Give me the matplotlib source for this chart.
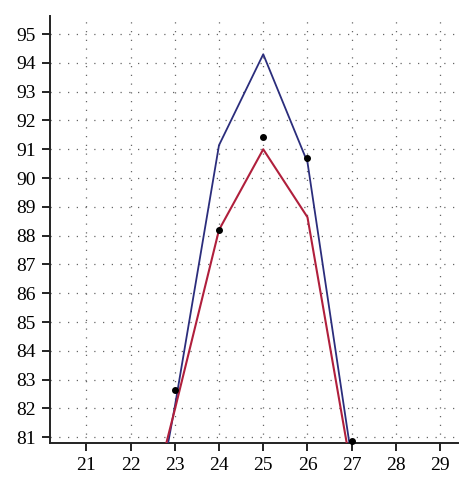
import numpy as np
import matplotlib.pyplot as plt

plt.rcParams['font.family'] = ['Liberation Serif', 'DejaVu Serif']

# --- data
x = [22, 23, 24, 25, 26, 27]
blue = [73.7, 82.05, 91.14, 94.3, 90.55, 80.25]
red = [75.9, 81.95, 88.2, 91.0, 88.64, 79.8]

x_pts = [23, 24, 25, 26, 27]
y_pts = [82.63, 88.19, 91.42, 90.69, 80.86]

xticks = [21, 22, 23, 24, 25, 26, 27, 28, 29]
yticks = list(range(81, 96))

fig = plt.figure(figsize=(4.74, 4.92), dpi=100)
ax = fig.add_axes([0.1055, 0.0996, 0.8605, 0.868])

ax.plot(x, blue, color='#2b2d7c', linewidth=1.3, zorder=3)
ax.plot(x, red, color='#b01f3c', linewidth=1.5, zorder=3)
ax.plot(x_pts, y_pts, 'o', color='k', markersize=4, zorder=4, clip_on=False)

ax.set_xlim(20.18, 29.4)
ax.set_ylim(80.8, 95.63)
ax.set_xticks(xticks)
ax.set_yticks(yticks)

ax.grid(True, color='#666666', linestyle=(0, (1, 6)), linewidth=0.9)
ax.set_axisbelow(True)

for s in ['top', 'right']:
    ax.spines[s].set_visible(False)
for s in ['left', 'bottom']:
    ax.spines[s].set_linewidth(1.4)
    ax.spines[s].set_color('#222222')

ax.tick_params(direction='out', length=6, width=1.4, labelsize=14,
               color='#222222', pad=4)

fig.savefig('out.png', dpi=100)
